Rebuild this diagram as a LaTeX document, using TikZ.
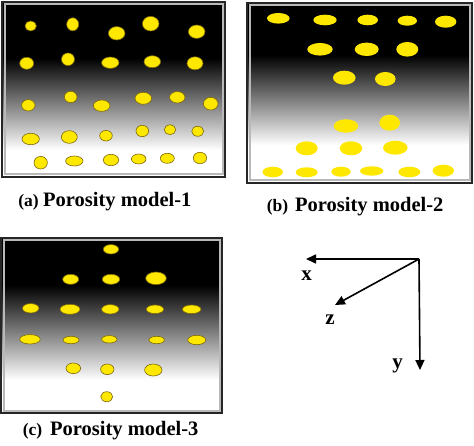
\documentclass[tikz,border=0pt]{standalone}
\usepackage{fontspec}
\setmainfont{Liberation Serif}
\usetikzlibrary{arrows.meta}
\definecolor{pyellow}{RGB}{255,232,0}
\definecolor{pedge}{RGB}{125,105,10}
\tikzset{
  pore/.style={fill=pyellow, draw=pedge, line width=0.6pt},
  porenb/.style={fill=pyellow},
  captext/.style={font=\bfseries\fontsize{20.5}{22}\selectfont, anchor=base west, inner sep=0pt},
  captag/.style={font=\bfseries\fontsize{17.5}{19}\selectfont, anchor=base, inner sep=0pt},
  axisarrow/.style={line width=1.6pt, -{Triangle[length=10pt,width=9pt]}},
  axlabel/.style={font=\bfseries\fontsize{21}{23}\selectfont, anchor=base, inner sep=0pt},
}
\newcommand\graypanel[6]{%
  \fill[black] (#1,#2) rectangle (#3,#5);
  \shade[top color=black, bottom color=white] (#1,#5) rectangle (#3,#6);
  \fill[white] (#1,#6) rectangle (#3,#4);
  \draw[gray!55, line width=2pt] (#1+2.5,#2+2.5) rectangle (#3-2.5,#4-2.5);
  \draw[black!85, line width=1.6pt] (#1,#2) rectangle (#3,#4);
}
\begin{document}
\begin{tikzpicture}[x=1pt,y=-1pt]
\useasboundingbox (0,0) rectangle (474,446);

% ---- panel (a)
\graypanel{2}{2}{225}{177}{58}{150}
\foreach \x/\y/\a/\b in {
  30.7/26/5.7/5, 72.7/24.3/6/6.5, 116.7/33.3/8.3/6.7, 150.7/23.7/8.3/7.3, 196.7/31.7/8.3/6.7,
  26.7/63.3/7/6, 68/59.3/6.5/6.3, 110.3/62.7/8.7/5.7, 152.3/61.7/8.3/6, 195/63.3/8/6.5,
  28.3/105.3/6.7/5.7, 70.7/97/6.3/5.7, 101.7/105.7/8.3/5.7, 143.3/98.3/8.3/6, 177.3/97.3/7.7/5.7, 210.7/103.7/7.3/6.3,
  30.7/139/8.7/5.7, 69.3/137/8/6.3, 106/135.7/6.3/5.3, 142.3/131/6.3/5.7, 170/129.7/5.7/5, 197.7/131.3/6/5,
  40.7/162.7/6.7/6.3, 74.3/161/8.7/5, 111/160/7.7/5.7, 138.7/159/7.3/5, 167.3/158.3/7/5, 200/158/6.7/5.7}
  \path[pore] (\x,\y) ellipse [x radius=\a pt, y radius=\b pt];

% ---- panel (b)
\graypanel{247}{3}{472}{183}{55}{145}
\foreach \x/\y/\a/\b in {
  278.3/18.3/11.3/5.3, 325/20/11.7/5.3, 367.7/20/10.3/5.3, 407.3/20.7/9.7/5, 445.7/21.7/10.7/6,
  320/49.3/12.7/6.3, 366.7/49.3/12/6.7, 407.3/49.3/11/7.3,
  344.3/77.7/11.3/7, 385.3/79/10.3/7,
  346/126/12.3/6.7, 389.7/122.7/10.3/8,
  306.7/148.3/11/7, 351/148.3/11.3/7, 395.3/147.7/12.3/7,
  272.7/172/10.3/5.3, 306.7/172.3/11/5, 341/171.7/9.7/5, 371.7/171/11.7/4.7, 409.3/172/11/5.3, 443.3/170.7/10.7/6}
  \path[porenb] (\x,\y) ellipse [x radius=\a pt, y radius=\b pt];

% ---- panel (c)
\graypanel{1}{238}{222}{413}{285}{380}
\foreach \x/\y/\a/\b in {
  111/249.3/7.7/4.7,
  70.7/279.3/8/5, 111/279.3/8.7/5, 156/278.3/10.3/6.3,
  30.7/308.3/8.3/4.7, 70/309.3/10/5, 110.3/309.3/8.7/4.7, 155/309.3/8.7/4.3, 191.7/309.3/9.3/4.3,
  30/339.3/10.3/4.7, 71/340/8/3.7, 109.3/339.3/7.7/3.7, 156.7/340/7.7/3.7, 196.7/340/9/4.7,
  73.3/368.3/7.3/5.3, 107.3/369.3/6.7/5.3, 153.3/370/8.7/6,
  106.7/396.7/6/5}
  \path[pore] (\x,\y) ellipse [x radius=\a pt, y radius=\b pt];

% ---- captions
\node[captag] (taga) at (28.5,207) {(a)};
\node[captext] (capa) at (43,207) {Porosity model-1};
\node[captag] (tagb) at (277.5,212) {(b)};
\node[captext] (capb) at (295,212) {Porosity model-2};
\node[captag] (tagc) at (32.5,435) {(c)};
\node[captext] (capc) at (50,435) {Porosity model-3};

% ---- axes
\coordinate (O) at (419,259);
\coordinate (xt) at (306,259);
\coordinate (zt) at (335,305);
\coordinate (yt) at (420,370);
\draw[axisarrow] (O) -- (xt);
\draw[axisarrow] (O) -- (zt);
\draw[axisarrow] (O) -- (yt);
\node[axlabel] (xl) at (306.7,280.7) {x};
\node[axlabel] (zl) at (330,325) {z};
\node[axlabel] (yl) at (397.5,368) {y};
\end{tikzpicture}
\end{document}
